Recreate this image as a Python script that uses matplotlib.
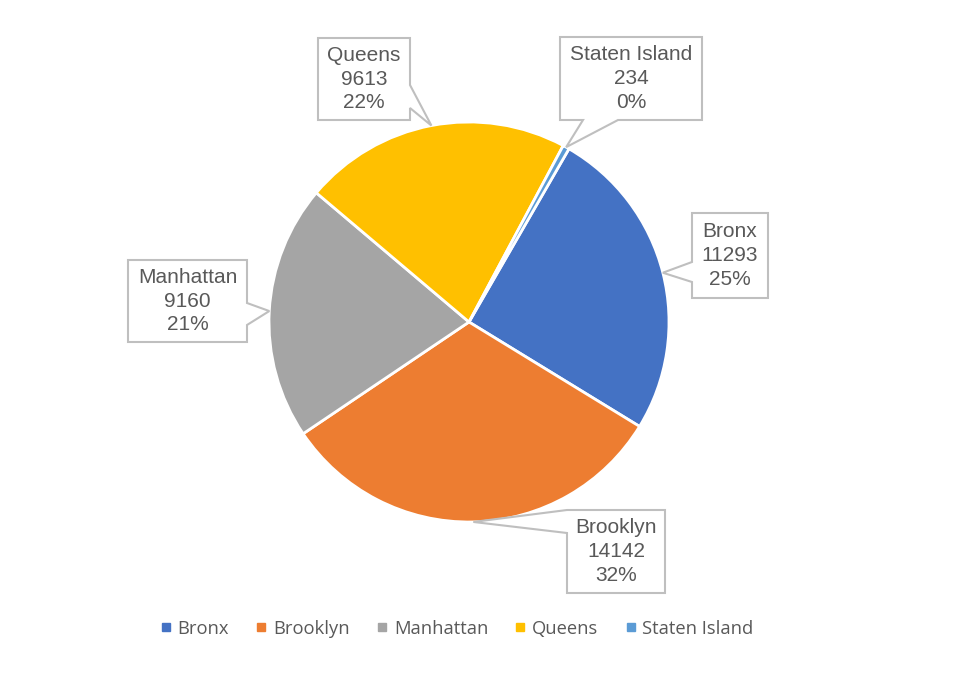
import matplotlib.pyplot as plt
from matplotlib.patches import Polygon
from matplotlib.lines import Line2D
import numpy as np

boroughs = ["Bronx", "Brooklyn", "Manhattan", "Queens", "Staten Island"]
counts = [11293, 14142, 9160, 9613, 234]
pct_labels = ["25%", "32%", "21%", "22%", "0%"]
colors = ["#4472C4", "#ED7D31", "#A5A5A5", "#FFC000", "#5B9BD5"]

# callout boxes in pie units (radius = 1): x0, x1, y0, y1, side, pointer base a, b
boxes = {
    "Bronx": (1.115, 1.495, 0.12, 0.545, "left", 0.30, 0.20),
    "Brooklyn": (0.49, 0.98, -1.355, -0.94, "left", -0.94, -1.055),
    "Manhattan": (-1.705, -1.11, -0.10, 0.31, "right", 0.095, -0.015),
    "Queens": (-0.755, -0.295, 1.01, 1.42, "right", 1.185, 1.07),
    "Staten Island": (0.455, 1.165, 1.01, 1.425, "bottom", 0.57, 0.745),
}

fig = plt.figure(figsize=(9.58, 6.74), dpi=100)
ax = fig.add_axes([0, 0, 1, 1])
cx, cy, R = 469, 322, 200

wedges, _ = ax.pie(counts, colors=colors, startangle=60, counterclock=False,
                   radius=1, wedgeprops=dict(edgecolor="white", linewidth=2))
ax.set_xlim(-cx / R, (958 - cx) / R)
ax.set_ylim(-(674 - cy) / R, cy / R)
ax.axis("off")


def callout(x0, x1, y0, y1, side, a, b, tip):
    lo, hi = min(a, b), max(a, b)
    if side == "right":
        pts = [(x0, y0), (x1, y0), (x1, lo), tip, (x1, hi), (x1, y1), (x0, y1)]
    elif side == "left":
        pts = [(x0, y0), (x1, y0), (x1, y1), (x0, y1), (x0, hi), tip, (x0, lo)]
    else:
        pts = [(x0, y0), (lo, y0), tip, (hi, y0), (x1, y0), (x1, y1), (x0, y1)]
    ax.add_patch(Polygon(pts, closed=True, facecolor="white",
                         edgecolor="#BFBFBF", linewidth=1.5, zorder=3))


for w, name, n, p in zip(wedges, boroughs, counts, pct_labels):
    mid = np.deg2rad((w.theta1 + w.theta2) / 2)
    tip = (np.cos(mid), np.sin(mid))
    x0, x1, y0, y1, side, a, b = boxes[name]
    callout(x0, x1, y0, y1, side, a, b, tip)
    ax.text((x0 + x1) / 2, (y0 + y1) / 2, f"{name}\n{n}\n{p}", ha="center",
            va="center", fontsize=15, color="#595959", linespacing=1.32,
            family="Liberation Sans", zorder=4)

handles = [Line2D([], [], marker="s", linestyle="", markersize=6, color=c)
           for c in colors]
fig.legend(handles, boroughs, loc="center", bbox_to_anchor=(0.477, 0.067),
           ncol=5, frameon=False, handlelength=0.6, handletextpad=0.35,
           columnspacing=1.45, prop=dict(family="Open Sans", size=13.2),
           labelcolor="#595959")

fig.savefig("out.png", dpi=100)
